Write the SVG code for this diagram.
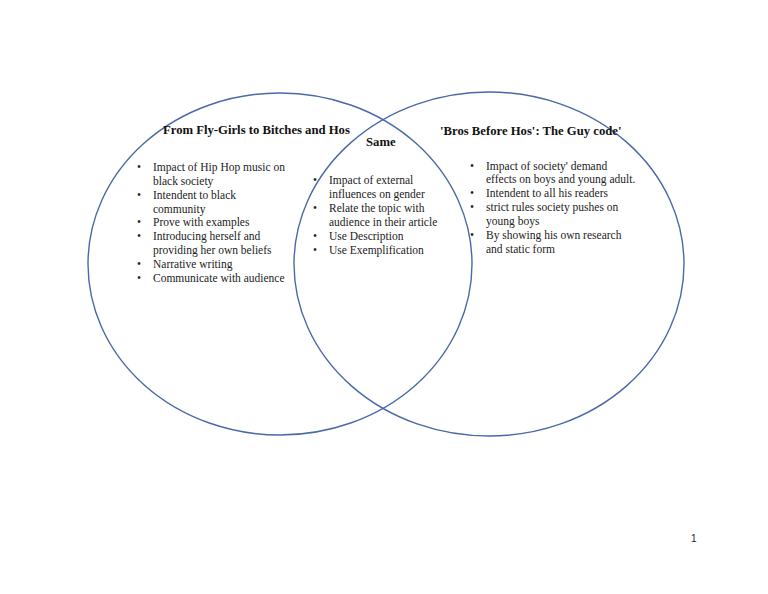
<svg xmlns="http://www.w3.org/2000/svg" width="768" height="594" viewBox="0 0 768 594">
<style>
.ring{fill:none;stroke:#4a69a6;stroke-width:1.4}
.t{font-family:"Liberation Serif","Times New Roman",serif;font-size:11.5px;fill:#222}
.h{font-family:"Liberation Serif","Times New Roman",serif;font-size:12.7px;font-weight:bold;fill:#111}
.pg{font-family:"Liberation Sans",Arial,sans-serif;font-size:10px;fill:#222}
</style>
<rect width="768" height="594" fill="#fff"/>
<g id="left">
<ellipse class="ring" cx="280" cy="264" rx="192" ry="171"/>
<text class="h" x="163" y="134">From Fly-Girls to Bitches and Hos</text>
<g class="t">
<text x="137" y="171">•</text><text x="153" y="171">Impact of Hip Hop music on</text>
<text x="153" y="185">black society</text>
<text x="137" y="199">•</text><text x="153" y="199">Intendent to black</text>
<text x="153" y="213">community</text>
<text x="137" y="226">•</text><text x="153" y="226">Prove with examples</text>
<text x="137" y="240">•</text><text x="153" y="240">Introducing herself  and</text>
<text x="153" y="254">providing her own beliefs</text>
<text x="137" y="268">•</text><text x="153" y="268">Narrative writing</text>
<text x="137" y="282">•</text><text x="153" y="282">Communicate with audience</text>
</g>
</g>
<g id="right">
<ellipse class="ring" cx="489" cy="264" rx="195" ry="172"/>
<text class="h" x="440" y="135">'Bros Before Hos': The Guy code'</text>
<g class="t">
<text x="470" y="170">•</text><text x="486" y="170">Impact of society' demand</text>
<text x="486" y="183">effects on boys and young adult.</text>
<text x="470" y="197">•</text><text x="486" y="197">Intendent to all his readers</text>
<text x="470" y="211">•</text><text x="486" y="211">strict rules society pushes on</text>
<text x="486" y="225">young boys</text>
<text x="470" y="239">•</text><text x="486" y="239">By showing his own research</text>
<text x="486" y="253">and static form</text>
</g>
</g>
<g id="same">
<text class="h" x="366" y="146">Same</text>
<g class="t">
<text x="313" y="184">•</text><text x="329" y="184">Impact of external</text>
<text x="329" y="198">influences on gender</text>
<text x="313" y="212">•</text><text x="329" y="212">Relate the topic with</text>
<text x="329" y="226">audience in their article</text>
<text x="313" y="240">•</text><text x="329" y="240">Use Description</text>
<text x="313" y="254">•</text><text x="329" y="254">Use Exemplification</text>
</g>
</g>
<g id="connectors"></g>
<text class="pg" x="691" y="542">1</text>
</svg>
